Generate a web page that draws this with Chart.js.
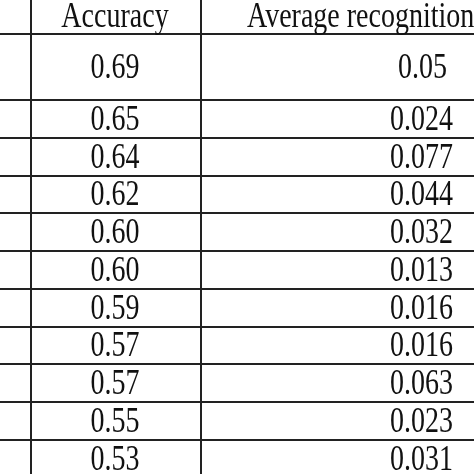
<!DOCTYPE html>
<html>
<head>
<meta charset="utf-8">
<script src="https://cdn.jsdelivr.net/npm/chart.js@4/dist/chart.umd.min.js"></script>
<style>
html,body{margin:0;padding:0;background:#fff}
#wrap{width:474px;height:474px}
</style>
</head>
<body>
<div id="wrap"><canvas id="tbl"></canvas></div>
<script>
// table contents
const headers = ['Accuracy', 'Average recognition']
const accuracy = ['0.69','0.65','0.64','0.62','0.60','0.60','0.59','0.57','0.57','0.55','0.53']
const recognition = ['0.05','0.024','0.077','0.044','0.032','0.013','0.016','0.016','0.063','0.023','0.031']
// row heights in row units (first row is a double-height one)
const rowSpans = [1.75,1,1,1,1,1,1,1,1,1,1]

// row borders and centres, worked out from the spans
let rowLines = [0]
let rowMid = []
rowSpans.forEach((s, i) => {
    rowMid.push(rowLines[i] + s / 2)
    rowLines.push(rowLines[i] + s)
})
const colLines = [31, 201]
const accX = 115
const recX = 453

const font = '28px "Liberation Serif", "DejaVu Serif", serif'
const stretch = 1.3   // source picture is squashed sideways

function putText(ctx, txt, px, py, align) {
    ctx.save()
    ctx.translate(px, py)
    ctx.scale(1, stretch)
    ctx.textAlign = align
    ctx.fillText(txt, 0, 1)
    ctx.restore()
}

const cellText = {
    id: 'cellText',
    afterDatasetsDraw(chart) {
        const ctx = chart.ctx
        const x = chart.scales.x, y = chart.scales.y
        ctx.save()
        ctx.font = font
        ctx.fillStyle = '#111'
        ctx.textBaseline = 'middle'
        putText(ctx, headers[0], x.getPixelForValue(accX), y.getPixelForValue(-0.48), 'center')
        putText(ctx, headers[1], x.getPixelForValue(247), y.getPixelForValue(-0.48), 'left')
        chart.data.datasets[0].data.forEach((p, i) => {
            putText(ctx, accuracy[i], x.getPixelForValue(p.x), y.getPixelForValue(p.y), 'center')
        })
        chart.data.datasets[1].data.forEach((p, i) => {
            putText(ctx, recognition[i], x.getPixelForValue(p.x), y.getPixelForValue(p.y), 'right')
        })
        ctx.restore()
    }
}

new Chart(document.getElementById('tbl').getContext('2d'), {
    type: 'scatter',
    data: {
        datasets: [
            { label: headers[0], data: accuracy.map((v, i) => ({x: accX, y: rowMid[i]})), pointRadius: 0 },
            { label: headers[1], data: recognition.map((v, i) => ({x: i === 0 ? 447 : recX, y: rowMid[i]})), pointRadius: 0 }
        ]
    },
    options: {
        responsive: true,
        maintainAspectRatio: false,
        animation: false,
        layout: { padding: 0 },
        plugins: { legend: { display: false }, tooltip: { enabled: false } },
        scales: {
            x: {
                type: 'linear', min: 0, max: 474,
                afterBuildTicks: ax => { ax.ticks = colLines.map(v => ({value: v})) },
                ticks: { display: false },
                grid: { color: '#222', lineWidth: 2, drawTicks: false },
                border: { display: false }
            },
            y: {
                type: 'linear', min: -0.9, max: 11.65, reverse: true,
                afterBuildTicks: ax => { ax.ticks = rowLines.map(v => ({value: v})) },
                ticks: { display: false },
                grid: { color: '#222', lineWidth: 2, drawTicks: false },
                border: { display: false }
            }
        }
    },
    plugins: [cellText]
})
</script>
</body>
</html>
